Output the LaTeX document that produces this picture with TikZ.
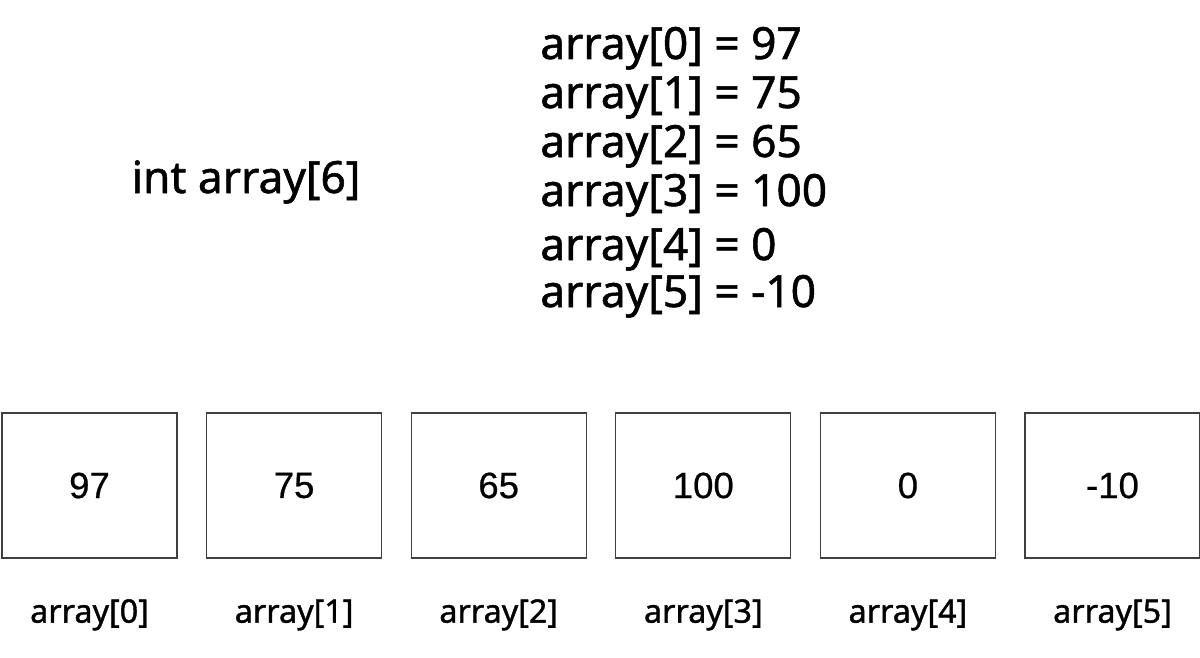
\documentclass[tikz,border=0pt]{standalone}
\usepackage{fontspec}
\setmainfont{Noto Sans}[FakeBold=1.2]
\newfontfamily\cellfont{Liberation Sans}[FakeBold=0.6]
\usetikzlibrary{positioning}

\tikzset{
  cell/.style={draw=black!75, line width=0.9pt, inner sep=0pt,
    minimum width=4.375cm, minimum height=3.625cm,
    font=\cellfont\fontsize{26}{30}\selectfont},
  idx/.style={inner sep=0pt, font=\bfseries\fontsize{23}{28}\selectfont},
  big/.style={inner sep=0pt, font=\bfseries\fontsize{31.5}{36}\selectfont}
}

\begin{document}
\begin{tikzpicture}[x=0.025cm,y=-0.025cm]

 % frame
 \useasboundingbox (0,0) rectangle (1200,657);

 % declaration
 \node[big, anchor=base] (decl) at (246,193) {int array[6]};

 % assignments
 \node[big, anchor=base west] (L0) at (540,59) {array[0] = 97};
 \node[big, anchor=base west] (L1) at (540,108) {array[1] = 75};
 \node[big, anchor=base west] (L2) at (540,157) {array[2] = 65};
 \node[big, anchor=base west] (L3) at (540,206) {array[3] = 100};
 \node[big, anchor=base west] (L4) at (540,260) {array[4] = 0};
 \node[big, anchor=base west] (L5) at (540,307) {array[5] = -10};

 % cells
 \node[cell] (C0) at (89.5,485.5) {97};
 \node[cell] (C1) at (294.1,485.5) {75};
 \node[cell] (C2) at (498.7,485.5) {65};
 \node[cell] (C3) at (703.3,485.5) {100};
 \node[cell] (C4) at (907.9,485.5) {0};
 \node[cell] (C5) at (1112.5,485.5) {-10};

 % indices
 \node[idx, below=1.6cm of C0.south, anchor=base] (I0) {array[0]};
 \node[idx, below=1.6cm of C1.south, anchor=base] (I1) {array[1]};
 \node[idx, below=1.6cm of C2.south, anchor=base] (I2) {array[2]};
 \node[idx, below=1.6cm of C3.south, anchor=base] (I3) {array[3]};
 \node[idx, below=1.6cm of C4.south, anchor=base] (I4) {array[4]};
 \node[idx, below=1.6cm of C5.south, anchor=base] (I5) {array[5]};

\end{tikzpicture}
\end{document}
